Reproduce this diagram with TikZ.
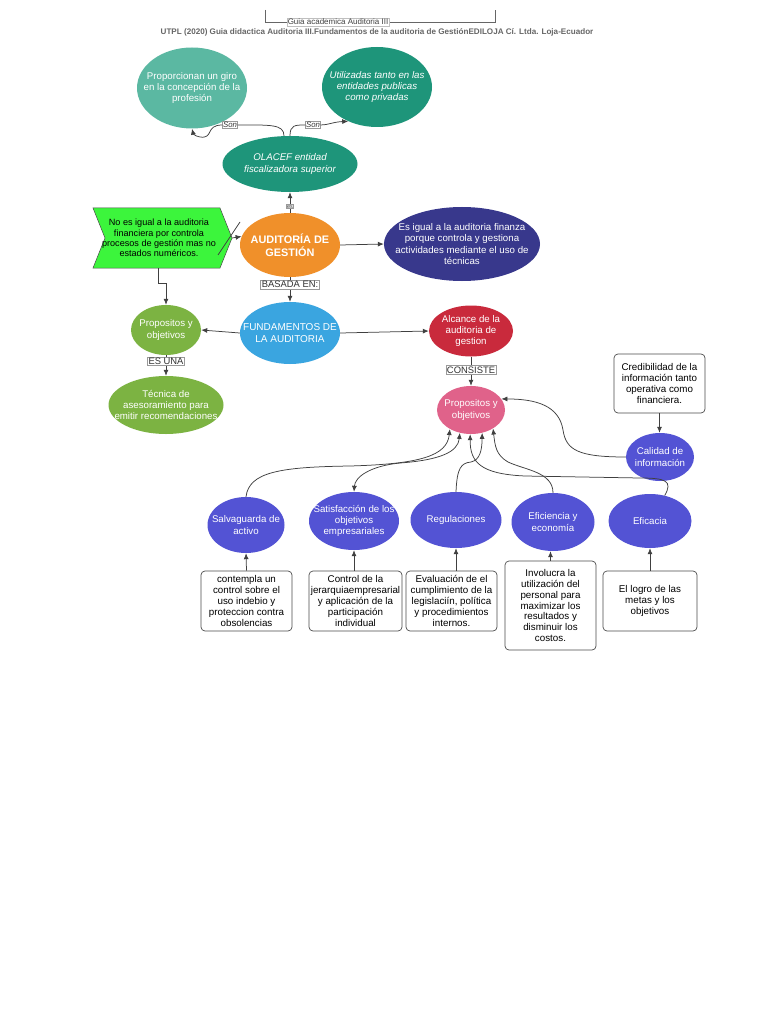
\documentclass[tikz,border=0pt]{standalone}
\usepackage{fontspec}
\setmainfont{Liberation Sans}
\usetikzlibrary{shapes.geometric,arrows.meta}
\definecolor{tealA}{HTML}{5BB8A2}
\definecolor{tealB}{HTML}{1E957A}
\definecolor{orangeA}{HTML}{F0902A}
\definecolor{navyA}{HTML}{38388C}
\definecolor{greenA}{HTML}{7CB342}
\definecolor{skyA}{HTML}{3AA5E0}
\definecolor{redA}{HTML}{C92A3C}
\definecolor{pinkA}{HTML}{E0628A}
\definecolor{blueA}{HTML}{5353D4}
\definecolor{limeA}{HTML}{3CF53C}
\definecolor{hdr}{HTML}{666666}
\tikzset{
  ell/.style={ellipse, inner xsep=-40pt, inner ysep=-20pt, text=white, align=center, font=\fontsize{9.7}{11.1}\selectfont},
  infobox/.style={draw=black!70, line width=0.7pt, rounded corners=4pt, fill=white, align=center, inner sep=0pt, font=\fontsize{9.8}{10.8}\selectfont},
  arr/.style={-{Latex[length=6pt,width=5pt]}, draw=black!75, line width=0.75pt},
  conn/.style={draw=black!75, line width=0.75pt},
  lbl/.style={draw=black!40, fill=white, inner sep=1pt, font=\fontsize{9.4}{10}\selectfont, text=black!80},
}
\begin{document}
\begin{tikzpicture}[x=1pt,y=-1pt]
\useasboundingbox (0,0) rectangle (768,1024);
\fill[white] (0,0) rectangle (768,1024);
% header
\draw[hdr, line width=0.7pt] (265,10) -- (265,22) -- (495,22) -- (495,10);
\node[fill=white, draw=black!25, inner sep=0.8pt, text=black!75, font=\fontsize{8}{9}\selectfont] (htitle) at (338,22) {Guia academica Auditoria III};
\node[text=hdr, font=\bfseries\fontsize{8.1}{8.5}\selectfont, inner sep=0pt] (hsub) at (377,32) {UTPL (2020) Guia didactica Auditoria III.Fundamentos de la auditoria de GestiónEDILOJA Cí. Ltda. Loja-Ecuador};
% top ellipses
\node[ell, fill=tealA, minimum width=110pt, minimum height=81pt] (giro) at (192,88) {Proporcionan un giro\\en la concepción de la\\profesión};
\node[ell, fill=tealB, minimum width=110pt, minimum height=80pt, font=\itshape\fontsize{9.7}{11.1}\selectfont] (util) at (377,87) {Utilizadas tanto en las\\entidades publicas\\como privadas};
\node[ell, fill=tealB, minimum width=135pt, minimum height=56pt, font=\itshape\fontsize{9.7}{11.1}\selectfont] (olacef) at (290,164) {OLACEF entidad\\fiscalizadora superior};
% middle
\node[ell, fill=orangeA, minimum width=100pt, minimum height=64pt, font=\bfseries\fontsize{10.9}{13}\selectfont] (aud) at (290,245) {AUDITORÍA DE\\GESTIÓN};
\node[ell, fill=navyA, minimum width=156pt, minimum height=74pt] (igual) at (462,244) {Es igual a la auditoria finanza\\porque controla y gestiona\\actividades mediante el uso de\\técnicas};
\draw[black!70, line width=0.5pt, fill=limeA] (93,208) -- (220,208) -- (232,238) -- (220,268) -- (93,268) -- (105,238) -- cycle;
\node[inner sep=0pt, minimum width=139pt, minimum height=60pt, align=center, font=\fontsize{9.1}{10.2}\selectfont] (chev) at (159,238) {No es igual a la auditoria\\financiera por controla\\procesos de gestión mas no\\estados numéricos.};
\coordinate (chevtip) at (232,238);
\node[ell, fill=skyA, minimum width=100pt, minimum height=62pt, font=\fontsize{10}{11.5}\selectfont] (fund) at (290,333) {FUNDAMENTOS DE\\LA AUDITORIA};
\node[ell, fill=greenA, minimum width=70pt, minimum height=50pt] (pgreen) at (166,330) {Propositos y\\objetivos};
\node[ell, fill=greenA, minimum width=115pt, minimum height=58pt] (tecnica) at (166,405) {Técnica de\\asesoramiento para\\emitir recomendaciones};
\node[ell, fill=redA, minimum width=84pt, minimum height=51pt] (alc) at (471,331) {Alcance de la\\auditoria de\\gestion};
\node[ell, fill=pinkA, minimum width=68pt, minimum height=48pt] (pink) at (471,410) {Propositos y\\objetivos};
\node[infobox, minimum width=91pt, minimum height=59pt] (cred) at (659.5,383.5) {Credibilidad de la\\información tanto\\operativa como\\financiera.};
\node[ell, fill=blueA, minimum width=68pt, minimum height=48pt] (cal) at (660,457) {Calidad de\\información};
% bottom row
\node[ell, fill=blueA, minimum width=77pt, minimum height=56pt] (salv) at (246,525) {Salvaguarda de\\activo};
\node[ell, fill=blueA, minimum width=90pt, minimum height=58pt] (sat) at (354,521) {Satisfacción de los\\objetivos\\empresariales};
\node[ell, fill=blueA, minimum width=91pt, minimum height=56pt] (reg) at (456,520) {Regulaciones};
\node[ell, fill=blueA, minimum width=83pt, minimum height=58pt] (efi) at (553,522) {Eficiencia y\\economía};
\node[ell, fill=blueA, minimum width=83pt, minimum height=54pt] (efc) at (650,521) {Eficacia};
\node[infobox, minimum width=91pt, minimum height=60pt] (b1) at (246.5,601) {contempla un\\control sobre el\\uso indebio y\\proteccion contra\\obsolencias};
\node[infobox, minimum width=93pt, minimum height=60pt] (b2) at (355.5,601) {Control de la\\jerarquiaempresarial\\y aplicación de la\\participación\\individual};
\node[infobox, minimum width=91pt, minimum height=60pt] (b3) at (451.5,601) {Evaluación de el\\cumplimiento de la\\legislaciín, política\\y procedimientos\\internos.};
\node[infobox, minimum width=91pt, minimum height=89pt] (b4) at (550.5,605.5) {Involucra la\\utilización del\\personal para\\maximizar los\\resultados y\\disminuir los\\costos.};
\node[infobox, minimum width=94pt, minimum height=60pt] (b5) at (650,601) {El logro de las\\metas y los\\objetivos};
% connectors top
\node[lbl, font=\itshape\fontsize{7.8}{8}\selectfont, inner sep=0.6pt] (sonL) at (230,125) {Son};
\node[lbl, font=\itshape\fontsize{7.8}{8}\selectfont, inner sep=0.6pt] (sonR) at (313,125) {Son};
\draw[conn] ([xshift=-6pt]olacef.north) .. controls (284,124) and (270,125) .. (sonL.east);
\draw[arr] (sonL.west) .. controls (205,125) and (214,139) .. (200,137) .. controls (194,136) and (193,133) .. (giro.south);
\draw[conn] (olacef.north) .. controls (290,125) and (295,125) .. (sonR.west);
\draw[arr] (sonR.east) .. controls (328,125) and (333,122) .. (util.230);
\draw[arr] (aud.north) -- node[lbl, pos=0.3, font=\fontsize{5.5}{6}\selectfont, inner sep=0.5pt]{es} (olacef.south);
\draw[arr] (chevtip) -- (aud.170);
\draw[black!75, line width=0.75pt] (218,255) -- (240,222);
\draw[arr] (aud.east) -- (igual.west);
\draw[arr] (aud.south) -- node[lbl, pos=0.3]{BASADA EN:} (fund.north);
\draw[arr] ([xshift=-1pt]chev.south) -- ++(0,15) -| (pgreen.north);
\draw[arr] (fund.west) -- (pgreen.east);
\draw[arr] (fund.east) -- (alc.west);
\draw[arr] (pgreen.south) -- node[lbl, pos=0.3]{ES UNA} (tecnica.north);
\draw[arr] (alc.south) -- node[lbl, pos=0.45]{CONSISTE} (pink.north);
\draw[arr] (cred.south) -- (cred.south |- cal.north);
\draw[arr] (cal.west) .. controls (578,457) and (566,450) .. (563,430) .. controls (559,405) and (535,399) .. (pink.20);
% curves to pink
\draw[arr] (salv.north) .. controls (249,472) and (280,467) .. (350,466) .. controls (420,464) and (447,456) .. (pink.222);
\draw[{Latex[length=6pt,width=5pt]}-{Latex[length=6pt,width=5pt]}, draw=black!75, line width=0.75pt] (sat.north) .. controls (355,477) and (370,466) .. (400,463) .. controls (440,460) and (458,452) .. (pink.244);
\draw[arr] (efc.60) .. controls (673,481) and (666,478) .. (640,478) -- (525,476) .. controls (480,474) and (470,462) .. (pink.268);
\draw[arr] (reg.north) .. controls (457,468) and (461,463) .. (471,462) .. controls (480,460) and (482,450) .. (pink.296);
\draw[arr] (efi.north) .. controls (553,472) and (525,470) .. (508,462) .. controls (496,455) and (495,446) .. (pink.320);
% boxes to ellipses
\draw[arr] (b1.north) -- (salv.south);
\draw[arr] (b2.north -| sat.south) -- (sat.south);
\draw[arr] (b3.north -| reg.south) -- (reg.south);
\draw[arr] (b4.north) -- (b4.north |- efi.south);
\draw[arr] (b5.north) -- (efc.south);
\end{tikzpicture}
\end{document}
